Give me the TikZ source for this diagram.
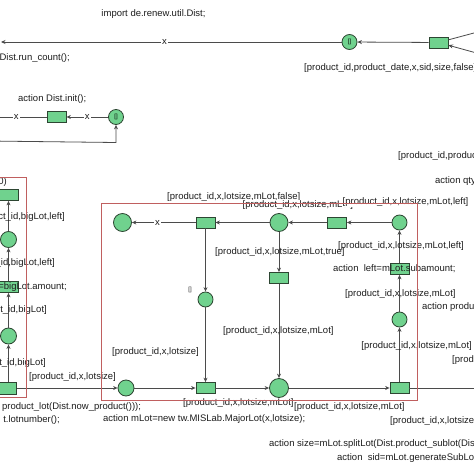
\documentclass[tikz,border=0pt]{standalone}
\usepackage{fontspec}
\setmainfont{Liberation Sans}
\usetikzlibrary{arrows.meta}
\definecolor{pgreen}{RGB}{112,210,142}
\definecolor{pborder}{RGB}{45,70,50}
\definecolor{linec}{RGB}{75,75,75}
\definecolor{framec}{RGB}{192,95,95}
\definecolor{txt}{RGB}{30,30,30}
\tikzset{
  place/.style={circle, draw=pborder, fill=pgreen, minimum size=15pt, inner sep=0pt, line width=0.8pt, font=\fontsize{6}{6}\selectfont},
  trans/.style={rectangle, draw=pborder, fill=pgreen, minimum width=19pt, minimum height=11pt, inner sep=0pt, line width=0.8pt},
  lbl/.style={font=\fontsize{9.5}{11}\selectfont, text=txt, inner sep=0pt},
  xlbl/.style={lbl, fill=white, inner sep=1pt},
  arc/.style={draw=linec, line width=0.8pt, -{Stealth[length=4.5pt,width=4pt]}},
  plain/.style={draw=linec, line width=0.8pt},
  frame/.style={draw=framec, line width=1pt}
}
\begin{document}
\begin{tikzpicture}[x=1pt,y=-1pt]
\useasboundingbox (0,0) rectangle (474,474);
\fill[white] (0,0) rectangle (474,474);

% ---------- top row ----------
\node[place] (p1) at (349.5,42) {[]};
\node[trans] (t1) at (438.5,42.5) {};
\coordinate (c1) at (1,42);
\coordinate (o1) at (500,26);
\coordinate (o2) at (500,59.5);
\draw[arc] (t1) -- (p1);
\draw[arc] (p1) -- node[xlbl, pos=0.52] (x1) {x} (c1);
\draw[plain] (t1) -- (o1);
\draw[arc] (o2) -- (t1);

% ---------- init row ----------
\node[trans] (t2) at (56.5,117) {};
\node[place] (p2) at (116,117) {[]};
\coordinate (c2) at (-12,117);
\coordinate (c3) at (-12,141);
\coordinate (c4) at (116,142.5);
\draw[arc] (p2) -- node[xlbl] (x2) {x} (t2);
\draw[arc] (t2) -- node[xlbl, pos=0.52] (x3) {x} (c2);
\draw[arc] (c3) -- (c4) -- (p2);

% ---------- left column ----------
\node[trans] (tL1) at (8.5,195) {};
\node[place, minimum size=16pt] (pL1) at (8.5,239.5) {};
\node[trans] (tL2) at (8.5,287) {};
\node[place, minimum size=16pt] (pL2) at (8.5,336) {};
\node[trans, minimum height=12pt] (tL3) at (7,388) {};
\draw[arc] (pL1) -- (tL1);
\draw[arc] (tL2) -- (pL1);
\draw[arc] (pL2) -- (tL2);
\draw[arc] (tL3.north -| pL2) -- (pL2);

% ---------- main net ----------
\node[place, minimum size=16pt] (pA) at (126,388) {};
\node[trans] (tB) at (205.5,388) {};
\node[place, minimum size=19pt] (pC) at (279,388) {};
\node[trans] (tD) at (399.5,388) {};
\node[place] (pE) at (399.5,319.5) {};
\node[trans] (tE) at (399.5,269) {};
\node[place] (pF) at (399.5,222.5) {};
\node[trans] (tF) at (337,222.5) {};
\node[place, minimum size=18pt] (pG) at (279,222.5) {};
\node[trans] (tG) at (205.5,222.5) {};
\node[place, minimum size=18pt] (pH) at (122.5,222.5) {};
\node[trans] (tH) at (279,278) {};
\node[place] (pI) at (205.5,299.5) {};
\coordinate (o3) at (490,388);

\draw[arc] (tL3) -- (pA);
\draw[arc] (pA) -- (tB);
\draw[arc] (tB) -- (pC);
\draw[arc] (pC) -- (tD);
\draw[plain] (tD) -- (o3);
\draw[arc] (tD) -- (pE);
\draw[arc] (pE) -- (tE);
\draw[arc] (tE) -- (pF);
\draw[arc] (pF) -- (tF);
\draw[arc] (tF) -- (pG);
\draw[arc] (pG) -- (tG);
\draw[arc] (tG) -- node[xlbl, pos=0.6] (x4) {x} (pH);
\draw[arc] (pG) -- (tH);
\draw[arc] (tH) -- (pC);
\draw[arc] (tG) -- (pI);
\draw[arc] (pI) -- (tB);

% ---------- texts ----------
\node[lbl] (l1) at (153.5,14) {import de.renew.util.Dist;};
\node[lbl, anchor=east] (l2) at (70,58) {Dist.run\_count();};
\node[lbl, anchor=west] (l3) at (304,68) {[product\_id,product\_date,x,sid,size,false]};
\node[lbl, anchor=west] (l4) at (18,99) {action Dist.init();};
\node[lbl, anchor=west] (l5) at (398,156) {[product\_id,product\_date};
\node[lbl, anchor=west] (l6) at (435,181) {action qty};

\node[lbl, anchor=east] (l7) at (7,182) {0)};
\node[lbl, anchor=east] (l8) at (65,217) {[product\_id,bigLot,left]};
\node[lbl, anchor=east] (l9) at (55,263) {[product\_id,bigLot,left]};
\node[lbl, anchor=east] (l10) at (67,287) {action left=bigLot.amount;};
\node[lbl, anchor=east] (l11) at (47,310) {[product\_id,bigLot]};
\node[lbl, anchor=east] (l12) at (46,363) {[product\_id,bigLot]};

\node[lbl, anchor=west] (l13) at (29,377) {[product\_id,x,lotsize]};
\node[lbl, anchor=west] (l14) at (112,352) {[product\_id,x,lotsize]};
\node[lbl, anchor=west] (l15) at (2,407) {product\_lot(Dist.now\_product()));};
\node[lbl, anchor=east] (l16) at (60,420) {t.lotnumber();};
\node[lbl, anchor=west] (l17) at (103,419) {action mLot=new tw.MISLab.MajorLot(x,lotsize);};
\node[lbl, anchor=west] (l18) at (183,403) {[product\_id,x,lotsize,mLot]};
\node[lbl, anchor=west] (l19) at (294,407) {[product\_id,x,lotsize,mLot]};
\node[lbl, anchor=west] (l20) at (390,421) {[product\_id,x,lotsize,mLot]};
\node[lbl, anchor=west] (l21) at (452,360) {[product\_id};
\node[lbl, anchor=west] (l22) at (269,444) {action size=mLot.splitLot(Dist.product\_sublot(Dist};
\node[lbl, anchor=west] (l23) at (337,458) {action\ \ sid=mLot.generateSubLot};

\node[lbl, anchor=east] (l24) at (472,346) {[product\_id,x,lotsize,mLot]};
\node[lbl, anchor=west] (l25) at (345,294) {[product\_id,x,lotsize,mLot]};
\node[lbl, anchor=west] (l26) at (333,269) {action\ \ left=mLot.subamount;};
\node[lbl, anchor=west] (l27) at (422,307) {action product};
\node[lbl, anchor=west] (l28) at (338,246) {[product\_id,x,lotsize,mLot,left]};
\node[lbl, anchor=west] (l29) at (215,252) {[product\_id,x,lotsize,mLot,true]};
\node[lbl, anchor=west] (l30) at (223,331) {[product\_id,x,lotsize,mLot]};
\node[lbl, font=\fontsize{6}{6}\selectfont] (l31) at (190,290) {[]};

\node[lbl, anchor=west] (l32) at (167,197) {[product\_id,x,lotsize,mLot,false]};
\node[lbl, anchor=west, fill=white, inner sep=0.5pt] (l33) at (242,205) {[product\_id,x,lotsize,mLot]};
\node[lbl, anchor=west, fill=white, inner sep=0.5pt] (l34) at (342,202) {[product\_id,x,lotsize,mLot,left]};

% ---------- frames ----------
\draw[frame] (101,203) rectangle (417,400);
\draw[frame] (-5,177) rectangle (26,397);
\end{tikzpicture}
\end{document}
